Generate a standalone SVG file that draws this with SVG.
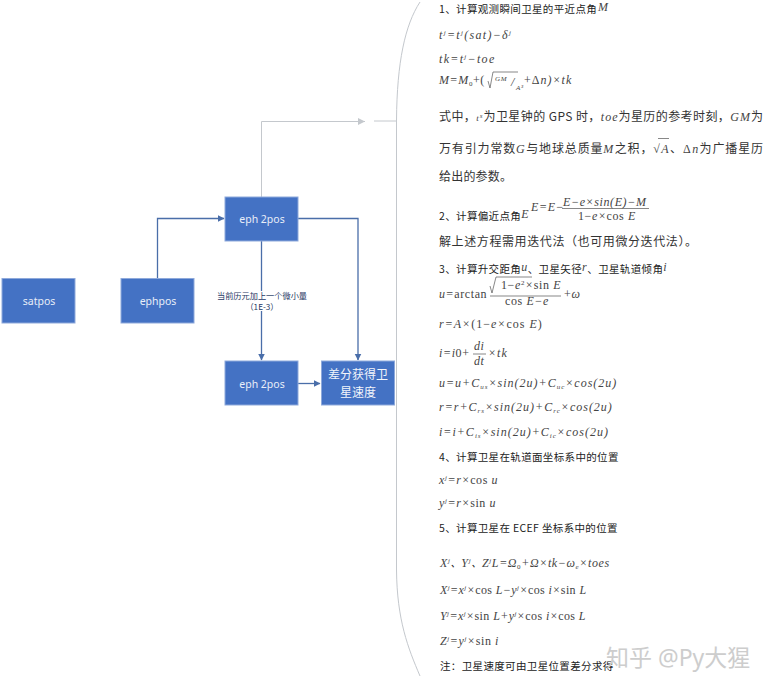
<svg xmlns="http://www.w3.org/2000/svg" width="770" height="692" viewBox="0 0 770 692">
<style>
.box{fill:#4472c4;stroke:#8ea9db;stroke-width:1}
.bt{font-family:"Noto Sans","Noto Sans CJK SC",sans-serif;font-size:10.5px;fill:#e8eef8;text-anchor:middle}
.bc{font-family:"Noto Sans CJK SC",sans-serif;font-size:12px;fill:#f2f5fb;text-anchor:middle}
.con{fill:none;stroke:#4a6ea9;stroke-width:1.3}
.gr{fill:none;stroke:#c4c8cd;stroke-width:1}
.lab{font-family:"Noto Sans CJK SC",sans-serif;font-size:8.2px;fill:#1f3864;text-anchor:middle}
.h{font-family:"Noto Sans CJK SC",sans-serif;font-size:10.5px;fill:#222;letter-spacing:.35px}
.p{font-family:"Noto Sans CJK SC",sans-serif;font-size:12px;fill:#333}
.f{font-family:"Liberation Serif",serif;font-size:12px;fill:#444;font-style:italic;letter-spacing:.6px}
.w{letter-spacing:1px}
.w2{letter-spacing:1.3px}
.r{font-style:normal}
.sm{font-size:7px}
.fl{stroke:#555;stroke-width:.7;fill:none}
.wm{font-family:"Noto Sans","Noto Sans CJK SC",sans-serif;font-size:23px;fill:#cdcdcd}
</style>
<defs>
<marker id="a" markerWidth="8" markerHeight="8" refX="6.5" refY="3.5" orient="auto" markerUnits="userSpaceOnUse"><path d="M0 0L7 3.500L0 7Z" fill="#4a6ea9"/></marker>
<marker id="g" markerWidth="8" markerHeight="8" refX="7" refY="3.5" orient="auto" markerUnits="userSpaceOnUse"><path d="M0 0L7 3.500L0 7Z" fill="#c4c8cd"/></marker>
</defs>
<rect width="770" height="692" fill="#fff"/>
<g id="connectors">
<path class="gr" d="M396.500 121H374"/>
<path class="gr" d="M261.500 197V121.500H365" marker-end="url(#g)"/>
<path class="con" d="M157.500 278.500V218.500H224" marker-end="url(#a)"/>
<path class="con" d="M261.500 241V360" marker-end="url(#a)"/>
<path class="con" d="M298 218.500H358V360" marker-end="url(#a)"/>
<path class="con" d="M298 383.500H320" marker-end="url(#a)"/>
<path class="gr" stroke-width="1.200" d="M420 2C405 25 397 62 396.500 120V570C397 620 408 648 420 676"/>
</g>
<g id="label-step"><rect x="216" y="291" width="92" height="20" fill="#fff"/><text class="lab" x="262" y="299">当前历元加上一个微小量</text><text class="lab" x="262" y="310">（1E-3）</text></g>
<g id="satpos"><rect class="box" x="2" y="278.500" width="73" height="44.500"/><text class="bt" x="39" y="305">satpos</text></g>
<g id="ephpos"><rect class="box" x="121" y="278.500" width="73" height="44.500"/><text class="bt" x="158" y="305">ephpos</text></g>
<g id="eph2pos-1"><rect class="box" x="225" y="197" width="73" height="44"/><text class="bt" x="262" y="223">eph 2pos</text></g>
<g id="eph2pos-2"><rect class="box" x="225" y="361" width="73" height="44"/><text class="bt" x="262" y="388">eph 2pos</text></g>
<g id="diff"><rect class="box" x="321.500" y="361" width="73" height="44"/><text class="bc" x="358" y="379">差分获得卫</text><text class="bc" x="358" y="397">星速度</text></g>
<g id="notes">
<text class="h" x="439" y="13">1、计算观测瞬间卫星的平近点角<tspan class="f" dx="1" dy="-2">M</tspan></text>
<text class="f w2" x="439" y="39">t<tspan class="sm" dy="-4">j</tspan><tspan dy="4">=t</tspan><tspan class="sm" dy="-4">j</tspan><tspan dy="4">(sat)−δ</tspan><tspan class="sm" dy="-4">j</tspan></text>
<text class="f w2" x="439" y="63">tk=t<tspan class="sm" dy="-4">j</tspan><tspan dy="4">−toe</tspan></text>
<text class="f" x="439" y="84">M=M<tspan class="sm r" dy="2">0</tspan><tspan class="r" dy="-2">+(</tspan></text>
<path class="fl" d="M488 81l2 7l3-16h25"/>
<text class="f sm" x="495" y="81">GM</text><text class="f" x="511" y="86">/</text><text class="f sm" x="516" y="90">A³</text>
<text class="f w" x="524" y="84"><tspan class="r">+Δ</tspan>n)×tk</text>
<text class="p" x="439" y="121" textLength="324">式中，<tspan class="f" style="font-size:9px">t</tspan><tspan class="f sm" dy="-3">s</tspan><tspan dy="3">为卫星钟的 GPS 时，</tspan><tspan class="f">toe</tspan>为星历的参考时刻，<tspan class="f">GM</tspan>为</text>
<text class="p" x="439" y="153" textLength="324">万有引力常数<tspan class="f">G</tspan>与地球总质量<tspan class="f">M</tspan>之积，<tspan class="f r">√</tspan><tspan class="f">A</tspan>、<tspan class="f"><tspan class="r">Δ</tspan>n</tspan>为广播星历</text>
<path class="fl" d="M658 138.500H669"/>
<text class="p" x="439" y="181" textLength="73">给出的参数。</text>
<text class="h" x="439" y="220">2、计算偏近点角<tspan class="f" dy="-2">E</tspan></text>
<text class="f" x="531" y="211">E=E−</text>
<text class="f" x="563" y="206">E−e×sin(E)−M</text>
<path class="fl" d="M562 208.500H649"/>
<text class="f" x="578" y="220"><tspan class="r">1−</tspan>e×<tspan class="r">cos </tspan>E</text>
<text class="p" x="439" y="246" textLength="258">解上述方程需用迭代法（也可用微分迭代法）。</text>
<text class="h" x="439" y="273">3、计算升交距角<tspan class="f" dy="-2">u</tspan><tspan dy="2">、卫星矢径</tspan><tspan class="f" dy="-2">r</tspan><tspan dy="2">、卫星轨道倾角</tspan><tspan class="f" dy="-2">i</tspan></text>
<text class="f" x="439" y="298">u=<tspan class="r">arctan</tspan></text>
<path class="fl" d="M490 286l2 7l4-16h36M490 296H561"/>
<text class="f" x="501" y="289"><tspan class="r">1−</tspan>e<tspan class="sm r" dy="-4">2</tspan><tspan dy="4">×</tspan><tspan class="r">sin </tspan>E</text>
<text class="f" x="505" y="305"><tspan class="r">cos </tspan>E−e</text>
<text class="f" x="564" y="298"><tspan class="r">+</tspan>ω</text>
<text class="f w" x="439" y="328">r=A×<tspan class="r">(1−</tspan>e×<tspan class="r">cos </tspan>E<tspan class="r">)</tspan></text>
<text class="f" x="439" y="357">i=i<tspan class="r">0+</tspan></text>
<text class="f" x="474" y="350">di</text><path class="fl" d="M473 354H486"/><text class="f" x="474" y="365">dt</text>
<text class="f w" x="488" y="357">×tk</text>
<text class="f w" x="439" y="387">u=u+C<tspan class="sm" dy="2">us</tspan><tspan dy="-2">×sin(2u)+C</tspan><tspan class="sm" dy="2">uc</tspan><tspan dy="-2">×cos(2u)</tspan></text>
<text class="f w" x="439" y="411">r=r+C<tspan class="sm" dy="2">rs</tspan><tspan dy="-2">×sin(2u)+C</tspan><tspan class="sm" dy="2">rc</tspan><tspan dy="-2">×cos(2u)</tspan></text>
<text class="f w" x="439" y="436">i=i+C<tspan class="sm" dy="2">is</tspan><tspan dy="-2">×sin(2u)+C</tspan><tspan class="sm" dy="2">ic</tspan><tspan dy="-2">×cos(2u)</tspan></text>
<text class="h" x="439" y="461">4、计算卫星在轨道面坐标系中的位置</text>
<text class="f" x="439" y="484">x<tspan class="sm" dy="-4">j</tspan><tspan dy="4">=r×</tspan><tspan class="r">cos </tspan>u</text>
<text class="f" x="439" y="507">y<tspan class="sm" dy="-4">j</tspan><tspan dy="4">=r×</tspan><tspan class="r">sin </tspan>u</text>
<text class="h" x="439" y="532">5、计算卫星在 ECEF 坐标系中的位置</text>
<text class="f" x="440" y="567">X<tspan class="sm" dy="-4">j</tspan><tspan class="h" dy="4">、</tspan>Y<tspan class="sm" dy="-4">j</tspan><tspan class="h" dy="4">、</tspan>Z<tspan class="sm" dy="-4">j</tspan><tspan dy="4">L=Ω</tspan><tspan class="sm r" dy="2">0</tspan><tspan dy="-2">+Ω×tk−ω</tspan><tspan class="sm" dy="2">e</tspan><tspan dy="-2">×toes</tspan></text>
<text class="f" style="letter-spacing:.4px" x="440" y="594">X<tspan class="sm" dy="-4">j</tspan><tspan dy="4">=x</tspan><tspan class="sm" dy="-4">j</tspan><tspan dy="4">×</tspan><tspan class="r">cos </tspan>L−y<tspan class="sm" dy="-4">j</tspan><tspan dy="4">×</tspan><tspan class="r">cos </tspan>i×<tspan class="r">sin </tspan>L</text>
<text class="f" style="letter-spacing:.4px" x="440" y="620">Y<tspan class="sm" dy="-4">j</tspan><tspan dy="4">=x</tspan><tspan class="sm" dy="-4">j</tspan><tspan dy="4">×</tspan><tspan class="r">sin </tspan>L+y<tspan class="sm" dy="-4">j</tspan><tspan dy="4">×</tspan><tspan class="r">cos </tspan>i×<tspan class="r">cos </tspan>L</text>
<text class="f" x="440" y="645">Z<tspan class="sm" dy="-4">j</tspan><tspan dy="4">=y</tspan><tspan class="sm" dy="-4">j</tspan><tspan dy="4">×</tspan><tspan class="r">sin </tspan>i</text>
<text class="h" x="440" y="670">注：卫星速度可由卫星位置差分求得</text>
<text class="wm" x="606" y="666">知乎 @Py大猩</text>
</g>
</svg>
